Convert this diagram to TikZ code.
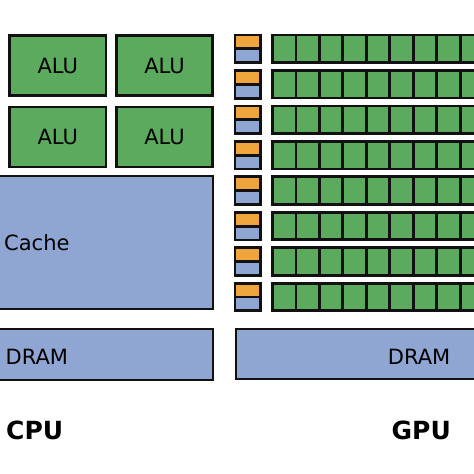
\documentclass[tikz,border=0pt]{standalone}
\usepackage{fontspec}
\setmainfont{DejaVu Sans}
\definecolor{alugreen}{RGB}{92,170,94}
\definecolor{memblue}{RGB}{143,165,210}
\definecolor{ctlorange}{RGB}{240,165,60}
\definecolor{edge}{RGB}{17,17,17}
\tikzset{
  box/.style={draw=edge, line width=2.8pt, rectangle, inner sep=0pt, outer sep=0pt},
  alubox/.style={box, fill=alugreen, minimum width=96.5pt, minimum height=60pt, font=\fontsize{21}{24}\selectfont},
  membox/.style={box, fill=memblue},
  ctlbox/.style={box, fill=ctlorange, minimum width=25.7pt, minimum height=13.85pt},
  ctlbox2/.style={box, fill=memblue, minimum width=25.7pt, minimum height=13.85pt},
  cellbox/.style={box, fill=alugreen, minimum width=23.45pt, minimum height=27.6pt},
  lbl/.style={inner sep=0pt, font=\fontsize{21}{24}\selectfont},
  title/.style={inner sep=0pt, font=\fontsize{25}{28}\selectfont\bfseries}
}
\begin{document}
\begin{tikzpicture}[x=1pt,y=-1pt]
\useasboundingbox (0,0) rectangle (474,474);
\clip (0,0) rectangle (474,474);
% CPU ALUs
\node[alubox] (alu1) at (57.7,65.5) {ALU};
\node[alubox] (alu2) at (164.5,65.5) {ALU};
\node[alubox] (alu3) at (57.7,137) {ALU};
\node[alubox] (alu4) at (164.5,137) {ALU};
% Cache
\node[membox, minimum width=223pt, minimum height=133pt] (cache) at (101.5,242.5) {};
\node[lbl, anchor=west] (cachelbl) at (4,242.5) {Cache};
% CPU DRAM
\node[membox, minimum width=223pt, minimum height=51pt] (cdram) at (101.5,354.5) {};
\node[lbl, anchor=west] (cdramlbl) at (5.5,357) {DRAM};
% GPU DRAM
\node[membox, minimum width=260pt, minimum height=50pt] (gdram) at (366,354) {};
\node[lbl, anchor=east] (gdramlbl) at (450.5,357) {DRAM};
% GPU rows
\foreach \r in {0,...,7}{
  \pgfmathsetmacro{\yt}{35+35.45*\r}
  \node[ctlbox, anchor=north] (ctl\r) at (247.85,\yt) {};
  \node[ctlbox2, anchor=north] (cache\r) at (ctl\r.south) {};
  \foreach \c in {0,...,8}{
    \pgfmathsetmacro{\xc}{272.5+23.45*\c+11.725}
    \node[cellbox, anchor=north] (cell\r-\c) at (\xc,\yt) {};
  }
}
% titles
\node[title, anchor=west] (cpu) at (6,430) {CPU};
\node[title, anchor=east] (gpu) at (451,430) {GPU};
\end{tikzpicture}
\end{document}
